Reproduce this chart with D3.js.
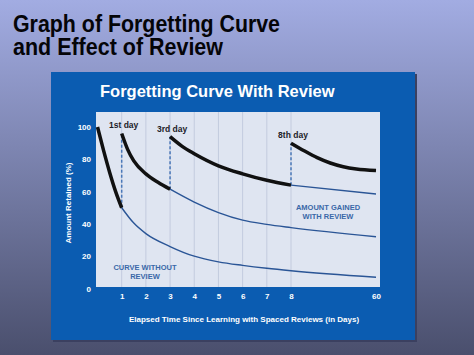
<!DOCTYPE html>
<html><head><meta charset="utf-8">
<script src="https://cdn.jsdelivr.net/npm/d3@7"></script>
<style>body{margin:0;overflow:hidden;background:#6b72a0}</style>
</head><body><svg id="c" width="474" height="355"></svg>
<script>
// ---- data ----
const xTicks = [1,2,3,4,5,6,7,8,60];
const yTicks = [0,20,40,60,80,100];
const gridDays = [1,2,3,4,5,6,7,8];
const initialDays = [0,0.25,0.5,0.75,1];
const initialVals = [100,85.5,72,60,50];
const noReviewDays = [1,1.5,2,3,4,5,6,7,8,60];
const noReviewVals = [50,40.5,34,26,20,16.5,14.3,12.5,11,7];
const review1Days = [1,1.25,1.5,2,2.5,3];
const review1Vals = [96,86,79,71,65.8,61.5];
const review1TailDays = [3,4,5,6,7,8,60];
const review1TailVals = [61.5,53.5,47,42.3,39.7,37.7,32];
const review2Days = [3,3.5,4,5,6,7,8];
const review2Vals = [94,88,83.5,76,71,67,64];
const review2TailDays = [8,60];
const review2TailVals = [64,58.5];
const review3Days = [8,16,24,32,40,48,60];
const review3Vals = [90,85.3,81,77.7,75.4,74,73];
const reviewLabels = ["1st day","3rd day","8th day"];
const reviewDays = [1,3,8];
const reviewFrom = [50,61.5,64];
const reviewTo = [96,94,90];

// ---- drawing ----
const svg = d3.select("#c");
const defs = svg.append("defs");
const g = defs.append("linearGradient").attr("id","bg").attr("x1",0).attr("y1",0).attr("x2",0).attr("y2",1);
g.append("stop").attr("offset","0%").attr("stop-color","#a2ace2");
g.append("stop").attr("offset","100%").attr("stop-color","#4a4f6d");
svg.append("rect").attr("width",474).attr("height",355).attr("fill","url(#bg)");

const font = "'Liberation Sans', Arial, Helvetica, sans-serif";
const titleLines = ["Graph of Forgetting Curve","and Effect of Review"];
const titleWidths = [267,210];
titleLines.forEach((t,i)=>{
  svg.append("text").attr("x",13).attr("y",31.5+i*23.5).text(t)
    .attr("textLength",titleWidths[i]).attr("lengthAdjust","spacingAndGlyphs")
    .attr("font-family","'Liberation Sans Narrow', 'Arial Narrow', "+font).attr("font-weight","bold")
    .attr("font-size",24.5).attr("fill","#050508");
});

// panel with shadow
svg.append("rect").attr("x",53).attr("y",74).attr("width",364).attr("height",268).attr("fill","#3b4060");
svg.append("rect").attr("x",51).attr("y",72).attr("width",364).attr("height",268).attr("fill","#0b5cb1");

svg.append("text").attr("x",100).attr("y",97).text("Forgetting Curve With Review")
  .attr("font-family",font).attr("font-weight","bold").attr("font-size",16.5).attr("fill","#ffffff");

const x = d3.scaleLinear().domain([0,8,60]).range([97.5,291,376]);
const y = d3.scaleLinear().domain([0,100]).range([288.5,127]);

svg.append("rect").attr("x",96).attr("y",112).attr("width",284).attr("height",175).attr("fill","#dfe5f1");

svg.append("g").selectAll("line").data(gridDays).join("line")
  .attr("x1",d=>x(d)).attr("x2",d=>x(d)).attr("y1",112).attr("y2",287)
  .attr("stroke","#c3cbde").attr("stroke-width",1);

// axes (labels only)
const xAxis = svg.append("g").attr("transform","translate(0,293)")
  .call(d3.axisBottom(x).tickValues(xTicks).tickSize(0).tickPadding(0).tickFormat(d3.format("d")));
xAxis.select(".domain").remove();
xAxis.selectAll("text").attr("font-family",font).attr("font-weight","bold").attr("font-size",8).attr("fill","#fff");

const yAxis = svg.append("g").attr("transform","translate(91,0)")
  .call(d3.axisLeft(y).tickValues(yTicks).tickSize(0).tickPadding(0));
yAxis.select(".domain").remove();
yAxis.selectAll("text").attr("font-family",font).attr("font-weight","bold").attr("font-size",8).attr("fill","#fff");

svg.append("text").attr("x",244).attr("y",322).attr("text-anchor","middle")
  .text("Elapsed Time Since Learning with Spaced Reviews (in Days)")
  .attr("font-family",font).attr("font-weight","bold").attr("font-size",8).attr("fill","#fff");
svg.append("text").attr("transform","translate(71,203) rotate(-90)").attr("text-anchor","middle")
  .text("Amount Retained (%)")
  .attr("font-family",font).attr("font-weight","bold").attr("font-size",8).attr("fill","#fff");

const line = d3.line().x(d=>x(d[0])).y(d=>y(d[1])).curve(d3.curveMonotoneX);
const zip = (a,b)=>a.map((v,i)=>[v,b[i]]);

// thin tails
[[noReviewDays,noReviewVals],[review1TailDays,review1TailVals],[review2TailDays,review2TailVals]].forEach(([d,v])=>{
  svg.append("path").attr("d",line(zip(d,v))).attr("fill","none").attr("stroke","#2a5596").attr("stroke-width",1.4);
});

// dashed review jumps
svg.append("g").selectAll("line").data(reviewDays).join("line")
  .attr("x1",d=>x(d)).attr("x2",d=>x(d))
  .attr("y1",(d,i)=>y(reviewFrom[i])).attr("y2",(d,i)=>y(reviewTo[i]))
  .attr("stroke","#4a78b8").attr("stroke-width",1.5).attr("stroke-dasharray","3,2");

// thick curves
[[initialDays,initialVals],[review1Days,review1Vals],[review2Days,review2Vals],[review3Days,review3Vals]].forEach(([d,v])=>{
  svg.append("path").attr("d",line(zip(d,v))).attr("fill","none").attr("stroke","#111")
    .attr("stroke-width",3.5).attr("stroke-linecap","butt");
});

svg.append("g").selectAll("text").data(reviewLabels).join("text")
  .attr("x",(d,i)=>x(reviewDays[i])+2).attr("y",(d,i)=>y(reviewTo[i])-5)
  .attr("text-anchor","middle").text(d=>d)
  .attr("font-family",font).attr("font-weight","bold").attr("font-size",8.5).attr("fill","#1c1c28");

const note = (lines, cx, cy)=>{
  lines.forEach((t,i)=>svg.append("text").attr("x",cx).attr("y",cy+i*9).attr("text-anchor","middle").text(t)
    .attr("font-family",font).attr("font-weight","bold").attr("font-size",7.5).attr("fill","#3a68a8"));
};
note(["CURVE WITHOUT","REVIEW"],145,270);
note(["AMOUNT GAINED","WITH REVIEW"],328,209.5);
</script>
</body></html>
